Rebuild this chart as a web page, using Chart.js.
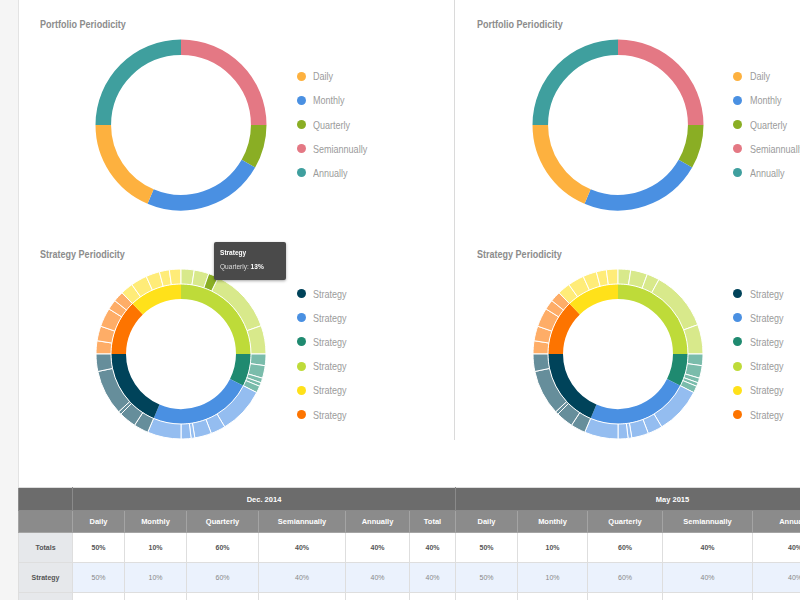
<!DOCTYPE html>
<html>
<head>
<meta charset="utf-8">
<script src="https://cdn.jsdelivr.net/npm/chart.js@4/dist/chart.umd.min.js"></script>
<style>
  body { margin: 0; width: 800px; height: 600px; overflow: hidden; position: relative; background: #fff;
         font-family: "Liberation Sans", Arial, sans-serif; }
  #strip { position: absolute; left: 0; top: 0; width: 18px; height: 600px; background: #f5f5f5; border-right: 1px solid #e3e3e3; }
  #divider { position: absolute; left: 454px; top: 0; width: 1px; height: 440px; background: #dadada; }
  .narrow { display: inline-block; transform: scaleX(0.82); transform-origin: 0 50%; }
  .title { position: absolute; font-size: 11px; font-weight: bold; color: #8c8c8c; line-height: 12px; white-space: nowrap; }
  .chart { position: absolute; }
  .legend-row { position: absolute; height: 14px; line-height: 14px; font-size: 11px; color: #9b9b9b; white-space: nowrap; }
  .legend-row i { position: absolute; left: -16.5px; top: 2.5px; width: 9px; height: 9px; border-radius: 50%; }
  #tip { position: absolute; display: none; box-sizing: border-box; width: 72px; height: 38px; padding: 4px 6px 6px 6px;
         background: #4a4a4a; color: #ddd; border-radius: 2px; box-shadow: 0 1px 3px rgba(0,0,0,0.35);
         font-size: 8px; line-height: 14px; white-space: nowrap; z-index: 5; }
  #tip b { color: #fff; }
  table { position: absolute; left: 18px; top: 487px; border-collapse: collapse; table-layout: fixed; }
  td { text-align: center; padding: 0; border: 1px solid #dedede; font-size: 7px; color: #888; overflow: hidden; white-space: nowrap; }
  tr.group td { height: 22px; background: #6c6c6c; color: #fff; font-weight: bold; font-size: 7.5px; border: 1px solid #8a8a8a; border-top-color: #ddd; }
  tr.cols td { height: 21px; background: #8b8b8b; color: #fff; font-weight: bold; font-size: 7.5px; border: 1px solid #a4a4a4; }
  tr.body td { height: 29px; }
  tr.totals td { font-weight: bold; color: #555; }
  tr.strat td { background: #ebf2fd; }
  td.rowhead { background: #e6e8eb !important; font-weight: bold; color: #555; }
</style>
</head>
<body>
<div id="strip"></div>
<div id="divider"></div>
<div id="tip"></div>

<script>
// ---- data ----
const periods = ['Daily', 'Monthly', 'Quarterly', 'Semiannually', 'Annually'];
const periodColors = ['#fdb13f', '#4a90e2', '#8aae24', '#e47884', '#3f9f9e'];
const portfolioShares = [18.6, 23.1, 8.3, 25, 25];   // % per period

const strategies = ['Strategy', 'Strategy', 'Strategy', 'Strategy', 'Strategy', 'Strategy'];
const strategyColors = ['#00435a', '#4a90e2', '#1f8a70', '#bedb39', '#ffe11a', '#fd7400'];
const strategyTints = ['#668e9b', '#94bdf0', '#7abcab', '#d8e98b', '#ffec78', '#fead67'];
const strategyHover = ['#35627a', '#3a7fd0', '#15705a', '#8aae24', '#e6c800', '#e06500'];
const strategyShares = [18.6, 23.9, 7.5, 25, 12.2, 12.8];

// outer ring: sub-shares per strategy (clockwise inside each strategy)
const subSharesDec = [
  [2.8, 3.3, 0.6, 8.6, 3.3],
  [8.9, 2.8, 3.2, 0.7, 1.9, 6.4],
  [2.2, 2.4, 0.9, 0.7, 1.3],
  [2.5, 2.8, 1.9, 12.4, 5.4],
  [2.4, 3.1, 2.6, 1.9, 2.2],
  [2.5, 2.8, 3.6, 1.9, 2.0]
];
const subSharesMay = [
  [2.8, 3.3, 0.6, 8.6, 3.3],
  [8.9, 2.8, 3.2, 0.7, 1.9, 6.4],
  [2.2, 2.4, 0.9, 0.7, 1.3],
  [2.4, 3.2, 2.4, 11.4, 5.6],
  [2.4, 3.1, 2.6, 1.9, 2.2],
  [2.5, 2.8, 3.6, 1.9, 2.0]
];

// hovered slice in the first strategy chart
const hoverStrategy = 3;
const hoverSub = 2;
const hoverShare = '13%';

// table
const tableGroups = ['Dec. 2014', 'May 2015'];
const tableColumns = ['Daily', 'Monthly', 'Quarterly', 'Semiannually', 'Annually', 'Total'];
const rowLabels = ['Totals', 'Strategy', ''];
const totalsRow = ['50%', '10%', '60%', '40%', '40%', '40%'];
const strategyRow = ['50%', '10%', '60%', '40%', '40%', '40%'];

// ---- layout ----
const panels = [
  { x: 181, y: 124.5, title: 'Portfolio Periodicity', titleX: 40, titleY: 18 },
  { x: 617.7, y: 124.5, title: 'Portfolio Periodicity', titleX: 476.5, titleY: 18 },
  { x: 181, y: 354, title: 'Strategy Periodicity', titleX: 40, titleY: 248 },
  { x: 617.7, y: 354, title: 'Strategy Periodicity', titleX: 476.5, titleY: 248 }
];

const narrow = t => '<span class="narrow">' + t + '</span>';

function addTitle(p) {
  const d = document.createElement('div');
  d.className = 'title';
  d.style.left = p.titleX + 'px';
  d.style.top = p.titleY + 'px';
  d.innerHTML = narrow(p.title);
  document.body.appendChild(d);
}

function addLegend(p, names, colors) {
  const step = 24.2;
  const top = p.y - (names.length - 1) / 2 * step;
  names.forEach((name, i) => {
    const row = document.createElement('div');
    row.className = 'legend-row';
    row.style.left = (p.x + 132) + 'px';
    row.style.top = (top + i * step - 7) + 'px';
    row.innerHTML = '<i style="background:' + colors[i] + '"></i>' + narrow(name);
    document.body.appendChild(row);
  });
}

function addCanvas(p) {
  const c = document.createElement('canvas');
  c.className = 'chart';
  c.width = 200; c.height = 200;
  c.style.width = '200px'; c.style.height = '200px';
  c.style.left = (p.x - 100) + 'px';
  c.style.top = (p.y - 100) + 'px';
  document.body.appendChild(c);
  return c;
}

// slices are listed counter-clockwise from 9 o'clock in the original,
// so reverse them and draw clockwise from 9 o'clock
const rev = a => a.slice().reverse();

function portfolioChart(p) {
  addTitle(p);
  addLegend(p, periods, periodColors);
  return new Chart(addCanvas(p), {
    type: 'doughnut',
    data: {
      labels: rev(periods),
      datasets: [{ data: rev(portfolioShares), backgroundColor: rev(periodColors), borderWidth: 0 }]
    },
    options: {
      responsive: false, animation: false, events: [],
      radius: 85.5, cutout: '81.8%', rotation: -90,
      plugins: { legend: { display: false }, tooltip: { enabled: false } }
    }
  });
}

function strategyChart(p, subShares, withTip) {
  addTitle(p);
  addLegend(p, strategies, strategyColors);
  const order = strategies.map((_, i) => i).reverse();
  const outer = [], outerBg = [], outerHover = [], outerLabels = [];
  order.forEach(s => {
    subShares[s].forEach((v, j) => {
      outer.push(v);
      outerBg.push(strategyTints[s]);
      outerHover.push(strategyHover[s]);
      outerLabels.push(periods[j % periods.length]);
    });
  });
  const chart = new Chart(addCanvas(p), {
    type: 'doughnut',
    data: {
      labels: outerLabels,
      datasets: [
        { data: outer, backgroundColor: outerBg, hoverBackgroundColor: outerHover,
          borderColor: '#fff', hoverBorderColor: '#fff', borderWidth: 1, hoverBorderWidth: 1 },
        { data: rev(strategyShares), backgroundColor: rev(strategyColors), borderWidth: 0 }
      ]
    },
    options: {
      responsive: false, animation: false, events: [],
      radius: 85, cutout: '64.7%', rotation: -90,
      plugins: {
        legend: { display: false },
        tooltip: {
          enabled: false,
          callbacks: {
            title: () => strategies[hoverStrategy],
            label: ctx => outerLabels[ctx.dataIndex] + ': ' + hoverShare
          },
          external: ({ chart, tooltip }) => {
            const tip = document.getElementById('tip');
            if (tooltip.opacity === 0 || !tooltip.body || !tooltip.body.length) { tip.style.display = 'none'; return; }
            const parts = tooltip.body[0].lines[0].split(': ');
            tip.innerHTML = narrow('<b>' + tooltip.title[0] + '</b>') + '<br>' + narrow(parts[0] + ': <b>' + parts[1] + '</b>');
            tip.style.display = 'block';
            const c = chart.canvas;
            tip.style.left = (c.offsetLeft + tooltip.caretX + 3) + 'px';
            tip.style.top = (c.offsetTop + tooltip.caretY - tip.offsetHeight - 2) + 'px';
          }
        }
      }
    }
  });
  if (withTip) {
    let idx = 0;
    for (const s of order) {
      if (s === hoverStrategy) break;
      idx += subShares[s].length;
    }
    const active = [{ datasetIndex: 0, index: idx + hoverSub }];
    chart.setActiveElements(active);
    chart.tooltip.setActiveElements(active, { x: 0, y: 0 });
    chart.update();
  }
  return chart;
}

portfolioChart(panels[0]);
portfolioChart(panels[1]);
strategyChart(panels[2], subSharesDec, true);
strategyChart(panels[3], subSharesMay, false);

// ---- table ----
const colWidths = [54, 52, 62, 72, 87, 64, 46, 62, 70, 75, 90, 85, 52];
const table = document.createElement('table');
const cg = document.createElement('colgroup');
colWidths.forEach(w => { const c = document.createElement('col'); c.style.width = w + 'px'; cg.appendChild(c); });
table.appendChild(cg);
table.style.width = colWidths.reduce((a, b) => a + b, 0) + 'px';

function addRow(cls, cells) {
  const tr = document.createElement('tr');
  tr.className = cls;
  cells.forEach(c => {
    const td = document.createElement('td');
    td.textContent = c.text;
    if (c.span) td.colSpan = c.span;
    if (c.cls) td.className = c.cls;
    tr.appendChild(td);
  });
  table.appendChild(tr);
}

addRow('group', [{ text: '' }].concat(tableGroups.map(g => ({ text: g, span: tableColumns.length }))));
addRow('cols', [{ text: '' }].concat(tableGroups.flatMap(() => tableColumns.map(t => ({ text: t })))));
addRow('body totals', [{ text: rowLabels[0], cls: 'rowhead' }].concat(tableGroups.flatMap(() => totalsRow.map(t => ({ text: t })))));
addRow('body strat', [{ text: rowLabels[1], cls: 'rowhead' }].concat(tableGroups.flatMap(() => strategyRow.map(t => ({ text: t })))));
addRow('body', [{ text: rowLabels[2], cls: 'rowhead' }].concat(tableGroups.flatMap(() => tableColumns.map(() => ({ text: '' })))));
document.body.appendChild(table);
</script>
</body>
</html>
